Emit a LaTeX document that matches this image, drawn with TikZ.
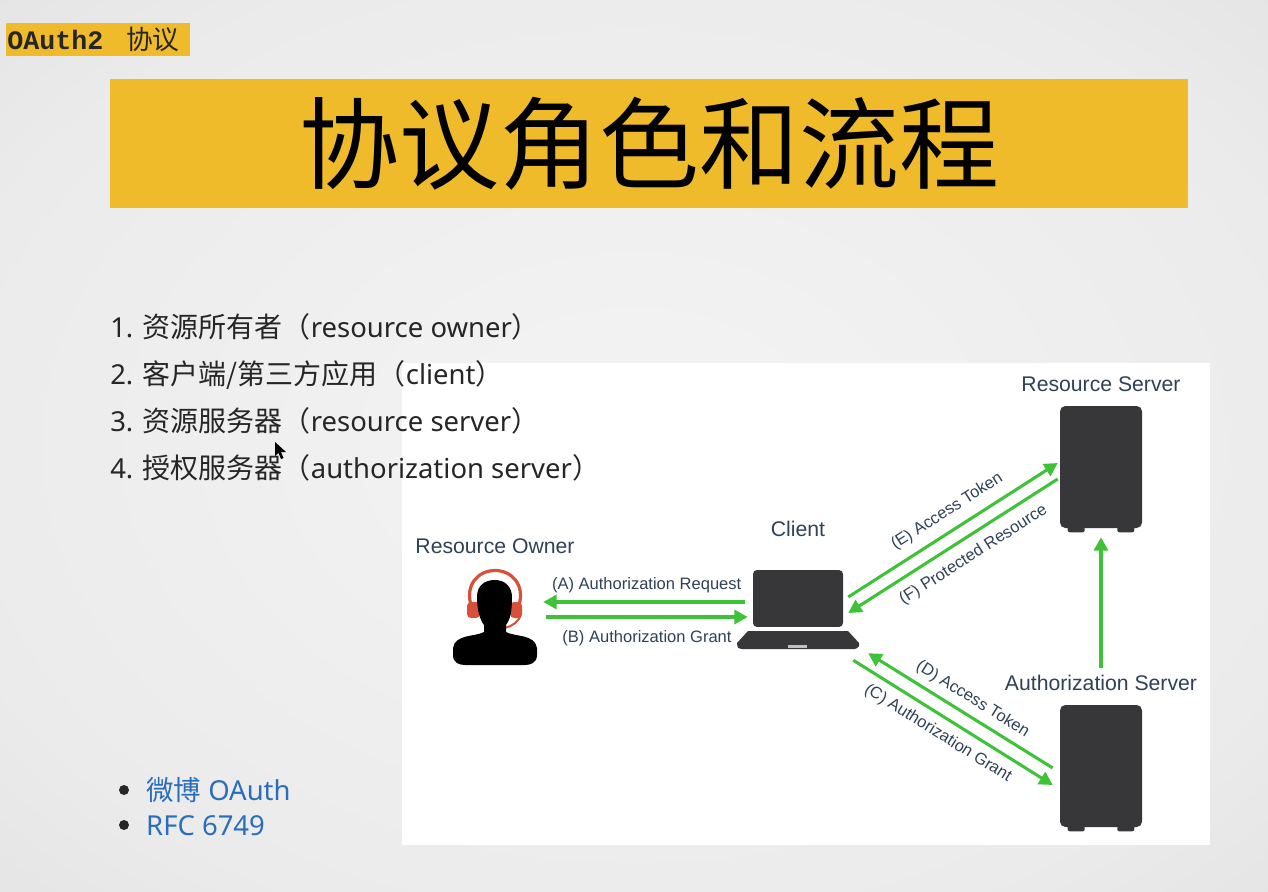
\documentclass[tikz,border=0pt]{standalone}
\usepackage{fontspec}
\setmainfont{Noto Sans}
\setmonofont{Liberation Mono}
\newfontfamily\cjk{Noto Sans CJK SC}
\newfontfamily\diagfont{Liberation Sans}
\usetikzlibrary{positioning,arrows.meta}
\definecolor{barcolor}{HTML}{F0BB2A}
\definecolor{flowgreen}{HTML}{3DC238}
\definecolor{machinegrey}{HTML}{37373A}
\definecolor{labelblue}{HTML}{2F4256}
\definecolor{linkblue}{HTML}{2A6EBB}
\definecolor{headsetred}{HTML}{D9503A}
\definecolor{bginner}{HTML}{F4F4F4}
\definecolor{bgmiddle}{HTML}{EBEBEB}
\definecolor{bgouter}{HTML}{DADADA}
\pgfdeclareradialshading{slideback}{\pgfpointorigin}{color(0bp)=(bginner);color(28bp)=(bgmiddle);color(50bp)=(bgouter)}
\tikzset{
    listitem/.style={anchor=west,inner sep=0pt,text height=16pt,text depth=5pt,font=\fontsize{20.6}{22}\selectfont,text=black!85},
    linkitem/.style={inner sep=0pt,text height=15pt,text depth=4pt,font=\fontsize{20.6}{22}\selectfont,text=linkblue},
    bulletdot/.style={circle,fill=black!85,inner sep=0pt,minimum size=7.5pt},
    machinelabel/.style={inner sep=0pt,font=\diagfont\fontsize{15.9}{18}\selectfont,text=labelblue},
    flowlabel/.style={inner sep=0pt,font=\diagfont\fontsize{12.4}{14}\selectfont,text=labelblue},
    flow/.style={draw=flowgreen,line width=2.3pt,-{Triangle[length=10pt,width=10.5pt]}},
    serverbox/.style={fill=machinegrey,rounded corners=4pt,minimum width=61.5pt,minimum height=91.5pt,inner sep=0pt},
}
\begin{document}
\begin{tikzpicture}[x=0.75pt,y=-0.75pt]
    \useasboundingbox (0,0) rectangle (1268,892);
    \shade[shading=slideback] (0,0) rectangle (1268,892);
    \fill[white] (402,363) rectangle (1210,845);

    \node[fill=barcolor,minimum width=138pt,minimum height=24.7pt,inner sep=0pt] (tag) at (98,39.5)
        {\fontsize{20}{22}\selectfont\ttfamily\bfseries\color{black!85}OAuth2\hspace*{5pt} {\cjk\mdseries 协议}\hspace*{7pt}};
    \node[fill=barcolor,minimum width=808.5pt,minimum height=96.7pt,inner sep=0pt] (titlebar) at (649,143.5)
        {\raisebox{-1pt}{\cjk\fontsize{75}{80}\selectfont 协议角色和流程}};

    \node[listitem] (item1) at (110,330) {1. {\cjk\fontsize{21}{22}\selectfont 资源所有者（}resource owner{\cjk\fontsize{21}{22}\selectfont ）}};
    \node[listitem,below=14pt of item1.south west,anchor=north west] (item2) {2. {\cjk\fontsize{21}{22}\selectfont 客户端/第三方应用（}client{\cjk\fontsize{21}{22}\selectfont ）}};
    \node[listitem,below=14pt of item2.south west,anchor=north west] (item3) {3. {\cjk\fontsize{21}{22}\selectfont 资源服务器（}resource server{\cjk\fontsize{21}{22}\selectfont ）}};
    \node[listitem,below=14pt of item3.south west,anchor=north west] (item4) {4. {\cjk\fontsize{21}{22}\selectfont 授权服务器（}authorization server{\cjk\fontsize{21}{22}\selectfont ）}};

    \node[bulletdot] (dot1) at (124,790) {};
    \node[bulletdot] (dot2) at (124,825) {};
    \node[linkitem,right=12.5pt of dot1,yshift=-2pt] (weibo) {{\cjk 微博} OAuth};
    \node[linkitem,right=12.5pt of dot2,yshift=-2pt] (rfc) {RFC 6749};

    \fill[black] (275,442) -- (275,456) -- (278.5,453) -- (281,459) -- (283.5,458) -- (281,452) -- (286,452) -- cycle;

    \node[minimum width=64.5pt,minimum height=72pt,inner sep=0pt] (owner) at (495,617) {};
    \draw[headsetred,line width=2.4pt] (471,605) .. controls (465,585) and (478,570.5) .. (495,570.5) .. controls (512,570.5) and (525,585) .. (519,605);
    \draw[headsetred,line width=1.5pt] (521,614) .. controls (519,622) and (512,626) .. (505,628);
    \fill[headsetred,rounded corners=3pt] (467,602) rectangle (480,618);
    \fill[headsetred,rounded corners=3pt] (510,602) rectangle (522,618);
    \fill[black] (477,597) .. controls (477,585) and (485,580) .. (495,580) .. controls (505,580) and (512,587) .. (512,597)
        .. controls (512,612) and (510,620) .. (506,625) -- (506,632) .. controls (515,637) and (535,634) .. (537,648)
        -- (537,655) .. controls (537,663) and (530,665) .. (525,665) -- (465,665) .. controls (458,665) and (453,662) .. (453,655)
        -- (453,648) .. controls (455,634) and (475,637) .. (484,632) -- (484,625) .. controls (480,620) and (477,610) .. (477,597) -- cycle;
    \node[machinelabel] (ownerlabel) at (495,546) {Resource Owner};

    \node[fill=machinegrey,rounded corners=3pt,minimum width=67.5pt,minimum height=42.7pt,inner sep=0pt] (client) at (798,598.5) {};
    \fill[machinegrey] (748,631) -- (848,631) -- (859,643) -- (859,646) [rounded corners=2pt] -- (857,649) -- (739,649) -- (737,646) [sharp corners] -- (737,643) -- cycle;
    \fill[white!75!black] (788,645) rectangle (807,647.5);
    \node[machinelabel] (clientlabel) at (798,529) {Client};

    \node[serverbox] (resserver) at (1101,467) {};
    \node[machinelabel] (reslabel) at (1101,384) {Resource Server};
    \node[serverbox] (authserver) at (1101,766) {};
    \node[machinelabel] (authlabel) at (1101,683) {Authorization Server};
    \foreach \srv in {resserver,authserver} {
        \fill[machinegrey,rounded corners=1.5pt] ([shift={(8,-4)}]\srv.south west) rectangle ([shift={(25,4)}]\srv.south west);
        \fill[machinegrey,rounded corners=1.5pt] ([shift={(-25,-4)}]\srv.south east) rectangle ([shift={(-8,4)}]\srv.south east);
    }

    \draw[flow] ([shift={(-8,3.5)}]client.west) -- ([shift={(5,-15)}]owner.east)
        node[flowlabel,midway,above=6pt,xshift=2pt] {(A) Authorization Request};
    \draw[flow] ([shift={(8,0)}]owner.east) -- ([shift={(-5,18.5)}]client.west)
        node[flowlabel,midway,below=9pt] {(B) Authorization Grant};
    \draw[flow] ([shift={(10,33)}]client.south east) -- ([shift={(-7,19)}]authserver.west)
        node[flowlabel,pos=.47,below=6pt,sloped] {(C) Authorization Grant};
    \draw[flow] ([shift={(-7,2)}]authserver.west) -- ([shift={(25,26)}]client.south east)
        node[flowlabel,pos=.48,above=5pt,sloped] {(D) Access Token};
    \draw[flow] ([shift={(5,-1.5)}]client.east) -- ([shift={(-2,-4)}]resserver.west)
        node[flowlabel,pos=.52,above=7pt,sloped] {(E) Access Token};
    \draw[flow] ([shift={(-2,12)}]resserver.west) -- ([shift={(5,14.5)}]client.east)
        node[flowlabel,pos=.45,below=7pt,sloped] {(F) Protected Resource};
    \draw[flow] ([shift={(0,-37)}]authserver.north) -- ([shift={(0,9)}]resserver.south);
\end{tikzpicture}
\end{document}
